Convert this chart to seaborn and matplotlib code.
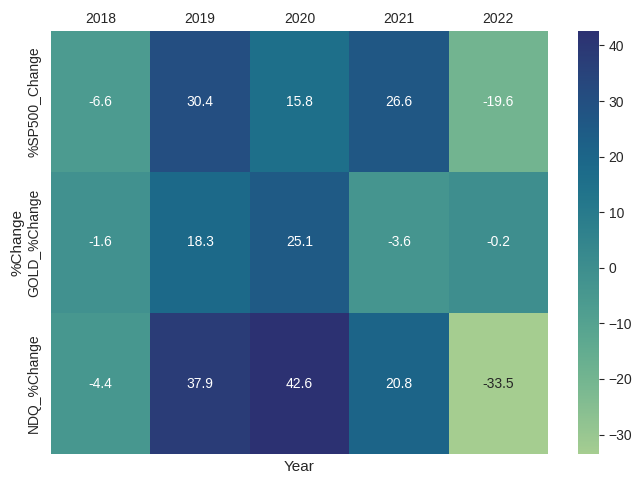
import matplotlib
matplotlib.use("Agg")
import matplotlib.pyplot as plt
import seaborn as sns
import pandas as pd

years = [2018, 2019, 2020, 2021, 2022]
series = ["%SP500_Change", "GOLD_%Change", "NDQ_%Change"]
sp500 = [-6.6, 30.4, 15.8, 26.6, -19.6]
gold = [-1.6, 18.3, 25.1, -3.6, -0.2]
ndq = [-4.4, 37.9, 42.6, 20.8, -33.5]

sns.set_style("darkgrid")
plt.rcParams['font.family'] = ['Liberation Sans', 'DejaVu Sans']
plt.rcParams['axes.labelsize'] = 11

df = pd.DataFrame([sp500, gold, ndq], index=series, columns=years)
df.index.name = "%Change"
df.columns.name = "Year"

W, H = 642, 484
fig = plt.figure(figsize=(W / 100, H / 100), dpi=100)
y0, y1 = 31, 454
ax = fig.add_axes([51 / W, 1 - y1 / H, (548 - 51) / W, (y1 - y0) / H])
cax = fig.add_axes([578 / W, 1 - y1 / H, (599 - 578) / W, (y1 - y0) / H])
sns.heatmap(df, annot=True, fmt=".1f", cmap="crest", ax=ax, cbar_ax=cax)
ax.xaxis.tick_top()
ax.tick_params(axis='x', length=0)
ax.set_ylabel("%Change", labelpad=2)
fig.savefig("out.png", dpi=100)
